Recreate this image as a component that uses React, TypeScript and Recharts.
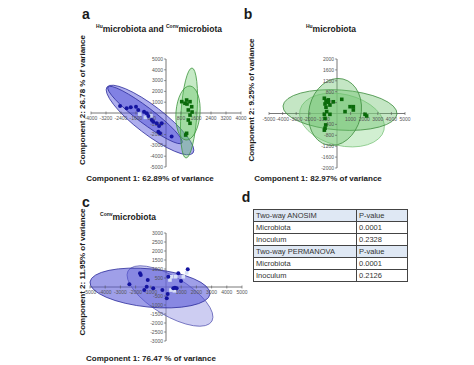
import React from 'react';
import { ScatterChart, Scatter, XAxis, YAxis, ReferenceLine, ReferenceDot } from 'recharts';

const FONT = '"Liberation Sans", Arial, sans-serif';

// panel a: Hu + Conv microbiota
const aXTicks = [-4000, -3200, -2400, -1600, -800, 800, 1600, 2400, 3200, 4000];
const aYTicks = [5000, 4000, 3000, 2000, 1000, -1000, -2000, -3000, -4000, -5000];
const aBlue = [
  [-2450, 650], [-1880, 530], [-1600, 580], [-1480, 280], [-1170, 120], [-1030, -30],
  [-940, -280], [-760, -650], [-680, -810], [-500, -950], [-370, -1200], [-230, -950],
  [-410, -1730], [-320, -1880], [300, -2180], [-2100, 450],
];
const aLight = [[-1400, -100], [-1100, -400], [-800, -250]];
const aGreen = [
  [840, 1050], [1010, 900], [1100, 1200], [1280, 1050], [1370, 580], [1190, 280],
  [1280, -190], [1190, -650], [1280, -950], [1100, -1880], [1050, -2040], [1120, 830], [1390, 90],
];
// ellipses: centre + two conjugate half-axes (data units)
const aBlueEll = [
  { cx: -853, cy: -648, ux: 2293, uy: -3056, vx: -455, vy: -1028 },
  { cx: -1120, cy: -185, ux: 1973, uy: -2593, vx: -256, vy: -593 },
];
const aGreenEll = [
  { cx: 1227, cy: 0, ux: 160, uy: 4167, vx: 427, vy: -46 },
  { cx: 1173, cy: 0, ux: 107, uy: 2500, vx: 640, vy: -93 },
];

// panel b: Hu microbiota
const bXTicks = [-5000, -4000, -3000, -2000, -1000, 1000, 2000, 3000, 4000, 5000];
const bYTicks = [2000, 1600, 1200, 800, 400, -400, -800, -1200, -1600, -2000];
const bGreen = [
  [-930, 560], [-810, 460], [-880, 350], [-640, 410], [-270, 430], [-520, 310], [350, 520],
  [-810, 230], [-760, 70], [-930, -30], [-520, -30], [-880, -180], [-830, -420], [-880, -540],
  [-930, -610], [590, 70], [960, 250], [1200, 250], [1200, 130], [2060, -30], [2180, -90], [-640, 500],
];
const bEll = [
  { cx: 368, cy: -239, ux: 3088, uy: -367, vx: -441, vy: -917 },
  { cx: 221, cy: 128, ux: 4191, uy: -147, vx: -103, vy: -734 },
  { cx: -147, cy: 55, ux: 588, uy: 1211, vx: 1860, vy: -224 },
];

// panel c: Conv microbiota
const cXTicks = [-5000, -4000, -3000, -2000, -1000, 1000, 2000, 3000, 4000, 5000];
const cYTicks = [3000, 2500, 2000, 1500, 1000, 500, -500, -1000, -1500, -2000, -2500, -3000];
const cBlue = [
  [-2410, 150], [-1710, 760], [-1660, 670], [-1200, 390], [-1270, 20], [-1430, -170],
  [-840, -70], [-240, -170], [150, 570], [110, -390], [50, -630], [480, -70], [810, 760],
  [990, 330], [1430, 980], [590, -40], [700, -70],
];
const cLight = [[260, 390], [380, 570], [640, 570], [1140, 570], [1360, 790], [330, -170], [550, -210]];
const cEll = [
  { cx: 263, cy: -500, ux: 2763, uy: -1389, vx: -592, vy: -944 },
  { cx: -1053, cy: -56, ux: 3947, uy: -333, vx: -132, vy: -1056 },
];

// panel d table
const tableRows = [
  ['Two-way ANOSIM', 'P-value'],
  ['Microbiota', '0.0001'],
  ['Inoculum', '0.2328'],
  ['Two-way PERMANOVA', 'P-value'],
  ['Microbiota', '0.0001'],
  ['Inoculum', '0.2126'],
];
const headerRows = [0, 3];

const toPts = (arr: number[][]) => arr.map(([x, y]) => ({ x, y }));

type Ell = { cx: number; cy: number; ux: number; uy: number; vx: number; vy: number };
type Series = { data: number[][]; kind: 'circle' | 'square'; color: string };
type EllSet = { list: Ell[]; fill: string; stroke: string; opacity: number };

const M = 20;

const Panel = ({ left, top, w, h, xDom, yDom, xTicks, yTicks, ells, series }: {
  left: number; top: number; w: number; h: number; xDom: number[]; yDom: number[];
  xTicks: number[]; yTicks: number[]; ells: EllSet[]; series: Series[];
}) => {
  const kx = w / (xDom[1] - xDom[0]);
  const ky = h / (yDom[1] - yDom[0]);
  return (
    <div style={{ position: 'absolute', left: left - M, top: top - M }}>
      <ScatterChart width={w + 2 * M} height={h + 2 * M} margin={{ top: M, right: M, bottom: M, left: M }}>
        <XAxis type="number" dataKey="x" domain={xDom} allowDataOverflow hide />
        <YAxis type="number" dataKey="y" domain={yDom} allowDataOverflow hide />
        {ells.map((set, si) =>
          set.list.map((e, i) => (
            <ReferenceDot
              key={`e-${si}-${i}`}
              x={e.cx}
              y={e.cy}
              r={0}
              shape={(p: any) => (
                <circle
                  r={1}
                  transform={`matrix(${e.ux * kx} ${-e.uy * ky} ${e.vx * kx} ${-e.vy * ky} ${p.cx} ${p.cy})`}
                  fill={set.fill}
                  fillOpacity={set.opacity}
                  stroke={set.stroke}
                  strokeWidth={0.8}
                  vectorEffect="non-scaling-stroke"
                />
              )}
            />
          ))
        )}
        <ReferenceLine x={0} stroke="#555" strokeWidth={0.8} />
        <ReferenceLine y={0} stroke="#555" strokeWidth={0.8} />
        {xTicks.map((t) => (
          <ReferenceDot
            key={`x${t}`}
            x={t}
            y={0}
            r={0}
            shape={(p: any) => (
              <g>
                <line x1={p.cx} x2={p.cx} y1={p.cy - 1.5} y2={p.cy + 1.5} stroke="#555" strokeWidth={0.6} />
                <text x={p.cx} y={p.cy + 7} textAnchor="middle" fontSize={5} fill="#555" fontFamily={FONT}>{t}</text>
              </g>
            )}
          />
        ))}
        {yTicks.map((t) => (
          <ReferenceDot
            key={`y${t}`}
            x={0}
            y={t}
            r={0}
            shape={(p: any) => (
              <g>
                <line x1={p.cx - 2} x2={p.cx} y1={p.cy} y2={p.cy} stroke="#555" strokeWidth={0.6} />
                <text x={p.cx - 3} y={p.cy + 1.8} textAnchor="end" fontSize={5} fill="#555" fontFamily={FONT}>{t}</text>
              </g>
            )}
          />
        ))}
        {series.map((s, i) => (
          <Scatter
            key={`s${i}`}
            data={toPts(s.data)}
            fill={s.color}
            isAnimationActive={false}
            shape={(p: any) =>
              s.kind === 'circle'
                ? <circle cx={p.cx} cy={p.cy} r={2} fill={s.color} />
                : <rect x={p.cx - 1.8} y={p.cy - 1.8} width={3.6} height={3.6} fill={s.color} />
            }
          />
        ))}
      </ScatterChart>
    </div>
  );
};

const T = ({ x, y, size, bold, rotate, children }: {
  x: number; y: number; size: number; bold?: boolean; rotate?: boolean; children: React.ReactNode;
}) => (
  <div
    style={{
      position: 'absolute', left: x, top: y, whiteSpace: 'nowrap', fontSize: size,
      fontWeight: bold ? 700 : 400, fontFamily: FONT, color: '#1a1a1a', lineHeight: 1,
      transform: `translate(-50%, -50%)${rotate ? ' rotate(-90deg)' : ''}`,
    }}
  >
    {children}
  </div>
);

const sup = { fontSize: 5, verticalAlign: 'super' } as const;

export default function App() {
  return (
    <div style={{ position: 'absolute', left: 0, top: 0, width: 474, height: 365, background: '#fff', overflow: 'hidden' }}>
      <T x={86} y={14} size={14} bold>a</T>
      <T x={248} y={14} size={14} bold>b</T>
      <T x={86} y={202} size={14} bold>c</T>
      <T x={246} y={197} size={14} bold>d</T>

      <T x={159} y={29} size={8.5} bold><span style={sup}>Hu</span>microbiota and <span style={sup}>Conv</span>microbiota</T>
      <T x={331} y={29} size={8.5} bold><span style={sup}>Hu</span>microbiota</T>
      <T x={128} y={217} size={8.5} bold><span style={sup}>Conv</span>microbiota</T>

      <T x={83} y={100} size={8} bold rotate>Component 2: 26.78 % of variance</T>
      <T x={252} y={100} size={8} bold rotate>Component 2: 9.25% of variance</T>
      <T x={83} y={272} size={8} bold rotate>Component 2: 11.95% of variance</T>

      <T x={150} y={179} size={8} bold>Component 1: 62.89% of variance</T>
      <T x={318} y={179} size={8} bold>Component 1: 82.97% of variance</T>
      <T x={151} y={359} size={8} bold>Component 1: 76.47 % of variance</T>

      <Panel
        left={91} top={59} w={150} h={108} xDom={[-4000, 4000]} yDom={[-5000, 5000]}
        xTicks={aXTicks} yTicks={aYTicks}
        ells={[
          { list: aBlueEll, fill: '#4b4bd6', stroke: '#2b2b9b', opacity: 0.45 },
          { list: aGreenEll, fill: '#5cc45c', stroke: '#3c963c', opacity: 0.35 },
        ]}
        series={[
          { data: aLight, kind: 'square', color: '#c6d2f2' },
          { data: aBlue, kind: 'circle', color: '#1414a0' },
          { data: aGreen, kind: 'square', color: '#0a6a0a' },
        ]}
      />
      <Panel
        left={269} top={59} w={136} h={109} xDom={[-5000, 5000]} yDom={[-2000, 2000]}
        xTicks={bXTicks} yTicks={bYTicks}
        ells={[
          { list: bEll.slice(0, 1), fill: '#a4e0a4', stroke: '#7cc47c', opacity: 0.5 },
          { list: bEll.slice(1), fill: '#6cc06c', stroke: '#3c8c3c', opacity: 0.4 },
        ]}
        series={[{ data: bGreen, kind: 'square', color: '#0a6a0a' }]}
      />
      <Panel
        left={90} top={233} w={152} h={108} xDom={[-5000, 5000]} yDom={[-3000, 3000]}
        xTicks={cXTicks} yTicks={cYTicks}
        ells={[
          { list: cEll.slice(0, 1), fill: '#9c9ce6', stroke: '#5a5ab4', opacity: 0.5 },
          { list: cEll.slice(1), fill: '#5050d6', stroke: '#2b2b9b', opacity: 0.55 },
        ]}
        series={[
          { data: cLight, kind: 'square', color: '#d8e0f6' },
          { data: cBlue, kind: 'circle', color: '#1414a0' },
        ]}
      />

      <table
        style={{
          position: 'absolute', left: 253, top: 209, width: 154, borderCollapse: 'collapse',
          fontFamily: FONT, fontSize: 7.5, color: '#333', tableLayout: 'fixed',
        }}
      >
        <colgroup>
          <col style={{ width: 103 }} />
          <col style={{ width: 51 }} />
        </colgroup>
        <tbody>
          {tableRows.map((r, i) => (
            <tr key={i} style={{ background: headerRows.includes(i) ? '#dfe8f4' : '#fff' }}>
              {r.map((c, j) => (
                <td key={j} style={{ border: '1px solid #444', padding: '0 2px', height: 11, lineHeight: '11px' }}>{c}</td>
              ))}
            </tr>
          ))}
        </tbody>
      </table>
    </div>
  );
}
